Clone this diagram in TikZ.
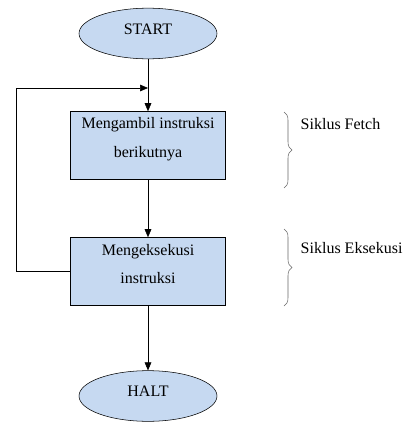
\documentclass[tikz,border=0pt]{standalone}
\usepackage{fontspec}
\setmainfont{Liberation Serif}
\usetikzlibrary{shapes.geometric,arrows.meta,decorations.pathreplacing}
\definecolor{boxblue}{RGB}{198,217,241}
\tikzset{
  terminal/.style={ellipse,draw,fill=boxblue,minimum width=103.5pt,minimum height=38pt,inner sep=0pt,text depth=7pt},
  process/.style={rectangle,draw,fill=boxblue,minimum width=116pt,minimum height=51pt,inner sep=0pt,align=center,text depth=12pt},
  flow/.style={-{Triangle[length=6pt,width=5pt]}},
  cycle brace/.style={draw=gray!80!black,decorate,decoration={brace,amplitude=6pt}}
}
\begin{document}
\begin{tikzpicture}[x=0.75pt,y=-0.75pt,font=\fontsize{12pt}{14pt}\selectfont]
\useasboundingbox (0,0) rectangle (412,439);
\node[terminal] (start) at (148,33.5) {START};
\node[process] (fetch) at (148,145.5) {Mengambil instruksi\\[8pt]berikutnya};
\node[process] (exec) at (148,271.5) {Mengeksekusi\\[7pt]instruksi};
\node[terminal] (halt) at (148,396) {HALT};
\coordinate (join) at (148,88);
\coordinate (loop) at (16,88);
\draw [flow] (start) -- (fetch);
\draw [flow] (fetch) -- (exec);
\draw [flow] (exec) -- (halt);
\draw [flow] (exec.west) -| (loop) -- (join);
\draw [cycle brace] (284,112) -- (284,188);
\draw [cycle brace] (284,229) -- (284,306);
\node[anchor=west] (fetchlbl) at (296,124) {Siklus Fetch};
\node[anchor=west] (execlbl) at (296,248) {Siklus Eksekusi};
\end{tikzpicture}
\end{document}
